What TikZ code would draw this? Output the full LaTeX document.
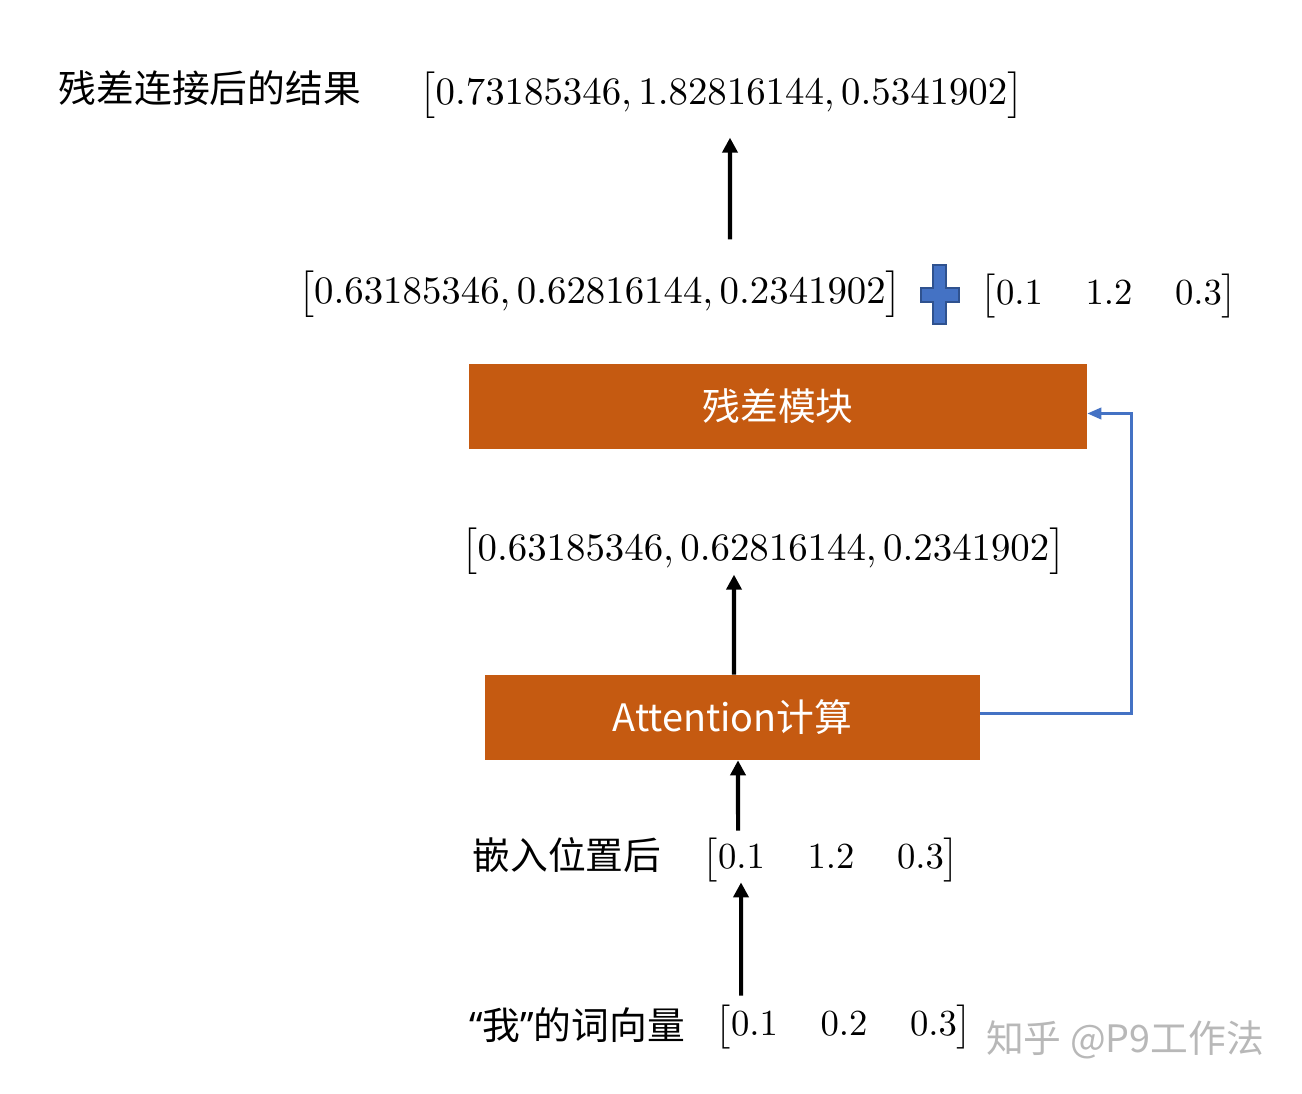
\documentclass[tikz,border=0pt]{standalone}
\usepackage{amsmath}
\usepackage{fontspec}
\newfontfamily\cjk{Noto Sans CJK SC}
\newfontfamily\latin{Noto Sans}
\usetikzlibrary{arrows.meta,positioning}
\definecolor{boxorange}{HTML}{C55A11}
\definecolor{linkblue}{HTML}{4472C4}
\definecolor{plusline}{HTML}{2F528F}
\begin{document}
\begin{tikzpicture}[x=0.02cm,y=-0.02cm]
  \tikzstyle{label}=[font=\cjk\fontsize{21.5}{26}\selectfont,inner sep=0pt]
  \tikzstyle{vec}=[inner sep=0pt]
  \tikzstyle{block}=[fill=boxorange,text=white,minimum height=1.7cm,font=\cjk\fontsize{21.5}{26}\selectfont]
  \tikzstyle{up}=[line width=2.3pt,-{Triangle[length=8.5pt,width=8.5pt]}]
  \tikzstyle{back}=[draw=linkblue,line width=1.5pt,-{Triangle[length=8pt,width=6.5pt]}]
  \useasboundingbox (0,0) rectangle (1302,1094);

  % result of the residual connection
  \node [label] (title) at (210,88) {残差连接后的结果};
  \node [vec] (top) at (721.5,95) {\scalebox{2.21}{$\bigl[0.73185346, 1.82816144, 0.5341902\bigr]$}};

  % attention output plus embedding
  \node [vec] (mid) at (600,294) {\scalebox{2.21}{$\bigl[0.63185346, 0.62816144, 0.2341902\bigr]$}};
  \draw [fill=linkblue,draw=plusline,line width=1pt]
    (933,265) -- (946,265) -- (946,288) -- (959,288) -- (959,302) -- (946,302)
    -- (946,324) -- (933,324) -- (933,302) -- (921,302) -- (921,288) -- (933,288) -- cycle;
  \node [vec] (add) at (1109,296) {\scalebox{2.09}{\arraycolsep=5.8pt$\begin{bmatrix}0.1 & 1.2 & 0.3\end{bmatrix}$}};

  \node [block,minimum width=12.36cm] (res) at (778,406.5) {残差模块};
  \node [vec] (out) at (763.5,551) {\scalebox{2.21}{$\bigl[0.63185346, 0.62816144, 0.2341902\bigr]$}};
  \node [block,minimum width=9.9cm] (attn) at (732.5,717.5) {Attention计算};

  % inputs
  \node [vec] (posvec) at (831,860) {\scalebox{2.09}{\arraycolsep=5.8pt$\begin{bmatrix}0.1 & 1.2 & 0.3\end{bmatrix}$}};
  \node [label] (pos) at (567,855) {嵌入位置后};
  \node [vec] (wordvec) at (844,1027) {\scalebox{2.09}{\arraycolsep=5.8pt$\begin{bmatrix}0.1 & 0.2 & 0.3\end{bmatrix}$}};
  \node [label] (word) at (577,1025) {{\latin “}我{\latin ”}的词向量};
  \node [label,text=black!28] (mark) at (1125,1040) {知乎 @P9工作法};

  % arrows
  \draw [up,shorten <=0.62cm,shorten >=0.38cm] ([xshift=2.6cm]mid.north) -- ([xshift=0.17cm]top.south);
  \draw [up] ([xshift=0.03cm]attn.north) -- ([xshift=-0.59cm]out.south);
  \draw [up,shorten <=0.14cm] ([xshift=-1.86cm]posvec.north) -- ([xshift=0.11cm]attn.south);
  \draw [up,shorten <=0.18cm] ([xshift=-2.06cm]wordvec.north) -- ([xshift=-1.8cm]posvec.south);
  \draw [back] ([yshift=0.08cm]attn.east) -- ++(151,0) |- ([yshift=-0.14cm]res.east);
\end{tikzpicture}
\end{document}
